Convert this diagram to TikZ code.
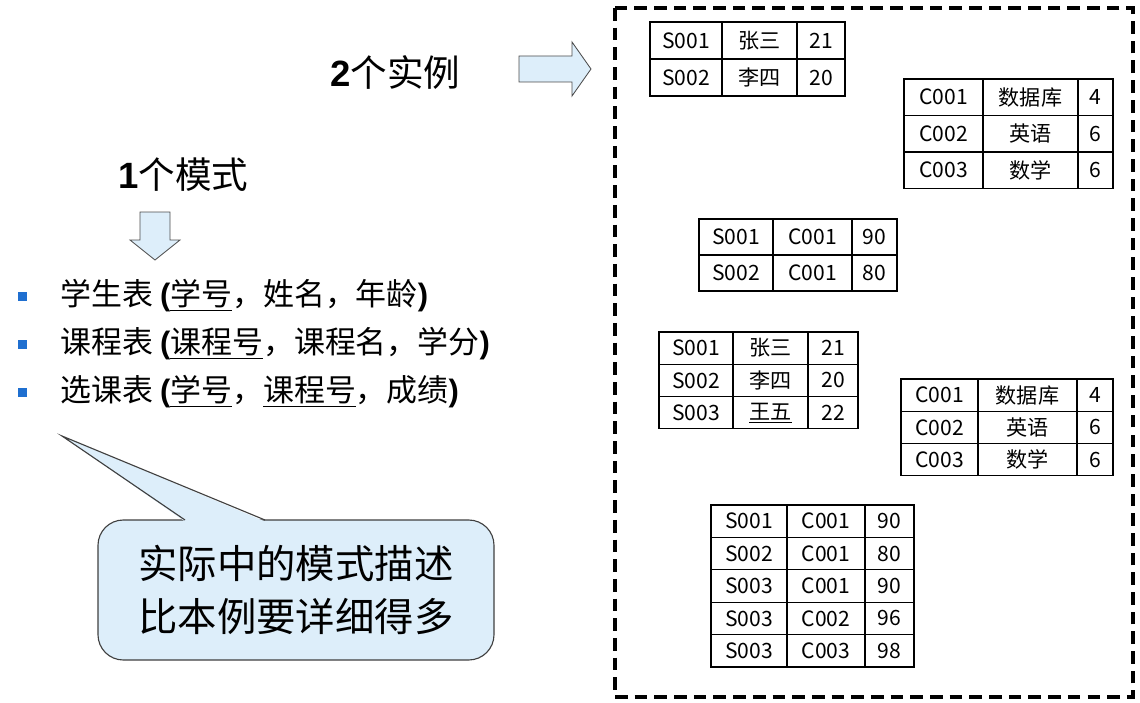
\documentclass[tikz,border=0pt]{standalone}
\usepackage{fontspec}
\setmainfont{Liberation Sans}
\newfontfamily\cjk{Noto Sans CJK SC}
\definecolor{calloutblue}{HTML}{DDEEFA}
\definecolor{bulletblue}{HTML}{1F6FD0}
\tikzset{
  cell/.style={font=\cjk\fontsize{15}{17}\selectfont, inner sep=0pt},
  bigtext/.style={font=\cjk\fontsize{22}{26}\selectfont, anchor=west, inner sep=0pt},
  bluearrow/.style={draw=black!70, fill=calloutblue, line width=0.6pt}
}
% table: name, x0, x1, x2, x3, y0, row height, rows a/b/c
\newcommand\datatab[8]{%
  \foreach \a/\b/\c [count=\i] in {#8} {
    \draw[line width=0.8pt] (#2,#6+#7*\i-#7) rectangle (#5,#6+#7*\i);
    \draw[line width=0.8pt] (#3,#6+#7*\i-#7) -- (#3,#6+#7*\i)
                            (#4,#6+#7*\i-#7) -- (#4,#6+#7*\i);
    \node[cell] (#1-\i-1) at ({(#2+#3)/2},#6+#7*\i-#7/2) {\a};
    \node[cell] (#1-\i-2) at ({(#3+#4)/2},#6+#7*\i-#7/2) {\b};
    \node[cell] (#1-\i-3) at ({(#4+#5)/2},#6+#7*\i-#7/2) {\c};
  }}
\newcommand\bp[1]{\textbf{\fontspec{Liberation Sans}#1}}
\begin{document}
\begin{tikzpicture}[x=0.025cm,y=-0.025cm]
\useasboundingbox (0,0) rectangle (1140,703);
% instances frame
\draw[line width=2.6pt, dash pattern=on 9pt off 5pt] (615,8) rectangle (1133,697);
% titles
\node[bigtext, font=\cjk\fontsize{26}{30}\selectfont] (inst) at (330,72) {\bp{2}个实例};
\node[bigtext, font=\cjk\fontsize{26}{30}\selectfont] (schema) at (118,175) {\bp{1}个模式};
\draw[bluearrow] (519,56) -- (572,56) -- (572,42) -- (591,69) -- (572,96) -- (572,82) -- (519,82) -- cycle;
\draw[bluearrow] (140,212) -- (170,212) -- (170,240) -- (180,240) -- (155,260) -- (130,240) -- (140,240) -- cycle;
% schema list
\foreach \t [count=\i] in {学生表 \bp{(}\underline{学号}，姓名，年龄\bp{)},
    课程表 \bp{(}\underline{课程号}，课程名，学分\bp{)},
    选课表 \bp{(}\underline{学号}，\underline{课程号}，成绩\bp{)}} {
  \fill[bulletblue] (18,{244+48*\i}) rectangle (27,{253+48*\i});
  \node[bigtext] (item\i) at (60,{248+48*\i}) {\t};
}
% callout
\coordinate (tip) at (62,436);
\node[draw=black!75, fill=calloutblue, rounded corners=18pt, line width=0.8pt,
  minimum width=396*0.025cm, minimum height=140*0.025cm,
  align=center, font=\cjk\fontsize{28}{38}\selectfont] (note) at (296,590)
  {实际中的模式描述\\比本例要详细得多};
\fill[calloutblue] (185,521.5) -- (tip) -- (265,521.5) -- cycle;
\draw[draw=black!75, line width=0.8pt] (185,520) -- (tip) -- (265,520);
% tables
\datatab{stu1}{650}{722}{797}{845}{22}{37}{S001/张三/21, S002/李四/20}
\datatab{crs1}{904}{983}{1078}{1113}{79}{36.5}{C001/数据库/4, C002/英语/6, C003/数学/6}
\datatab{sc1}{699}{773}{852}{897}{219}{36}{S001/C001/90, S002/C001/80}
\datatab{stu2}{659}{733}{808}{858}{332}{32.3}{S001/张三/21, S002/李四/20, S003/\underline{王五}/22}
\datatab{crs2}{901}{978}{1077}{1113}{379}{32.3}{C001/数据库/4, C002/英语/6, C003/数学/6}
\datatab{sc2}{711}{787}{865}{914}{505}{32.4}{S001/C001/90, S002/C001/80, S003/C001/90, S003/C002/96, S003/C003/98}
\end{tikzpicture}
\end{document}
